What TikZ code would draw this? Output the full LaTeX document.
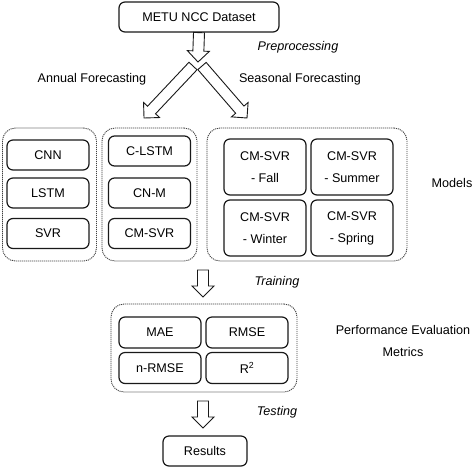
\documentclass[tikz,border=0pt]{standalone}
\usepackage{fontspec}
\setmainfont{Liberation Sans}
\usetikzlibrary{calc}
\tikzset{
  box/.style={draw=black!90, line width=1.2pt, rounded corners=6pt, minimum width=82pt, minimum height=30pt, inner sep=0pt, align=center},
  grp/.style={draw=black!75, line width=0.9pt, dash pattern=on 1.1pt off 0.9pt, rounded corners=13pt, inner sep=0pt},
  lbl/.style={inner sep=0pt, align=center},
  itl/.style={inner sep=0pt, font=\fontsize{12.6}{22}\selectfont\itshape},
  harrowline/.style={draw=black!90, line width=0.9pt, fill=white, line join=miter}
}
\newcommand\harrow[2]{%
  \draw[harrowline] let \p1=($(#2)-(#1)$), \n1={atan2(\y1,\x1)}, \n2={veclen(\x1,\y1)} in
  {[shift={(#1)}, rotate=\n1, x=1pt, y=1pt] (0,-5.5) -- ({\n2-11},-5.5) -- ({\n2-11},-11) -- (\n2,0) -- ({\n2-11},11) -- ({\n2-11},5.5) -- (0,5.5) -- cycle};}
\begin{document}
\begin{tikzpicture}[x=1pt, y=-1pt, font=\fontsize{12.6}{22}\selectfont]
\useasboundingbox (0,0) rectangle (474,467);
% top
\node[box, minimum width=160pt] (data) at (199,17) {METU NCC Dataset};
\coordinate (split) at (198,62);
\coordinate (ls) at (193,66);
\coordinate (le) at (144,118);
\coordinate (rs) at (202,66);
\coordinate (re) at (247,118);
\node[itl] (pre) at (298,47) {Preprocessing};
\node[lbl] (annual) at (92,79) {Annual Forecasting};
\node[lbl] (seasonal) at (300,79) {Seasonal Forecasting};
% groups
\node[grp, minimum width=94pt, minimum height=133pt] (g1) at (49.5,194.5) {};
\node[grp, minimum width=95pt, minimum height=133pt] (g2) at (149.5,194.5) {};
\node[grp, minimum width=200pt, minimum height=133pt] (g3) at (307,194.5) {};
\node[box] (cnn) at (48,155) {CNN};
\node[box] (lstm) at (48,193) {LSTM};
\node[box] (svr) at (48,233.5) {SVR};
\node[box] (clstm) at (149.5,151) {C-LSTM};
\node[box] (cnm) at (149.5,193) {CN-M};
\node[box] (cmsvr) at (149.5,233.5) {CM-SVR};
\node[box, minimum height=56pt] (fall) at (265,167) {CM-SVR\\- Fall};
\node[box, minimum height=56pt] (summer) at (352,167) {CM-SVR\\- Summer};
\node[box, minimum height=56pt] (winter) at (265,228) {CM-SVR\\- Winter};
\node[box, minimum height=56pt] (spring) at (352,228) {CM-SVR\\- Spring};
\node[lbl] (models) at (452,183) {Models};
% training
\coordinate (t1) at (203,270);
\coordinate (t2) at (203,297);
\node[itl] (train) at (277,282) {Training};
\node[grp, minimum width=186pt, minimum height=88pt] (g4) at (204,348) {};
\node[box, minimum height=31pt] (mae) at (160,332.5) {MAE};
\node[box, minimum height=31pt] (rmse) at (247,332.5) {RMSE};
\node[box, minimum height=31pt] (nrmse) at (160,368) {n-RMSE};
\node[box, minimum height=31pt] (r2) at (247,368) {R\textsuperscript{2}};
\node[lbl] (perf) at (403,341) {Performance Evaluation\\Metrics};
% testing
\coordinate (s1) at (203,401);
\coordinate (s2) at (203,428);
\node[itl] (test) at (277,412) {Testing};
\node[box, minimum width=84pt] (res) at (205,451) {Results};
% arrows
\harrow{data.south}{split}
\harrow{ls}{le}
\harrow{rs}{re}
\harrow{t1}{t2}
\harrow{s1}{s2}
\end{tikzpicture}
\end{document}
